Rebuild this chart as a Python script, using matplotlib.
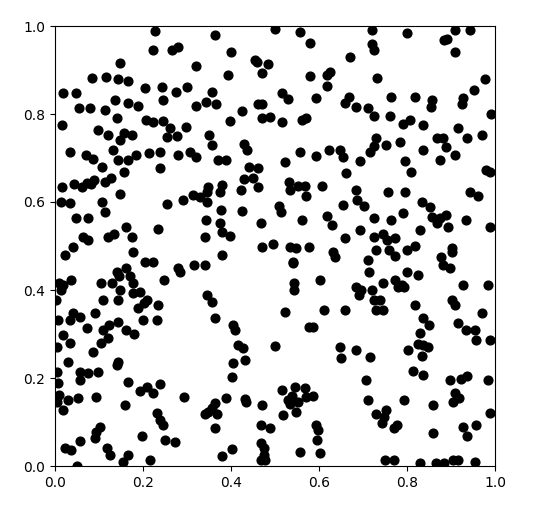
import matplotlib
matplotlib.use('Agg')
import matplotlib.pyplot as plt

# point positions, (x, y)
points = [
    (0.227, 0.989), (0.266, 0.945), (0.280, 0.952), (0.223, 0.945), (0.364, 0.980), (0.32, 0.909),
    (0.40, 0.941), (0.455, 0.923), (0.47, 0.893), (0.50, 0.993), (0.557, 0.986), (0.58, 0.961),
    (0.618, 0.889), (0.625, 0.895), (0.67, 0.93), (0.72, 0.99), (0.72, 0.96), (0.725, 0.945),
    (0.80, 0.984), (0.884, 0.968), (0.89, 0.97), (0.91, 0.99), (0.91, 0.94), (0.943, 0.99),
    (0.018, 0.848), (0.048, 0.848), (0.084, 0.882), (0.116, 0.884), (0.148, 0.916), (0.166, 0.875),
    (0.143, 0.880), (0.205, 0.859), (0.243, 0.861), (0.245, 0.832), (0.275, 0.85), (0.30, 0.861),
    (0.357, 0.85), (0.393, 0.889), (0.459, 0.918), (0.484, 0.914), (0.516, 0.848), (0.53, 0.834),
    (0.58, 0.886), (0.593, 0.836), (0.618, 0.864), (0.668, 0.839), (0.732, 0.882), (0.764, 0.839),
    (0.818, 0.839), (0.857, 0.832), (0.927, 0.836), (0.952, 0.855), (0.977, 0.88), (0.99, 0.80),
    (0.055, 0.814), (0.080, 0.814), (0.114, 0.809), (0.136, 0.832), (0.166, 0.825), (0.189, 0.818),
    (0.141, 0.791), (0.207, 0.786), (0.223, 0.782), (0.245, 0.784), (0.261, 0.768), (0.277, 0.75),
    (0.298, 0.77), (0.32, 0.818), (0.343, 0.827), (0.366, 0.823), (0.398, 0.784), (0.425, 0.807),
    (0.461, 0.823), (0.47, 0.823), (0.489, 0.793), (0.47, 0.791), (0.516, 0.782), (0.561, 0.786),
    (0.57, 0.791), (0.659, 0.825), (0.684, 0.816), (0.711, 0.814), (0.725, 0.795), (0.761, 0.795),
    (0.791, 0.777), (0.784, 0.736), (0.807, 0.786), (0.836, 0.775), (0.868, 0.745), (0.882, 0.745),
    (0.909, 0.707), (0.936, 0.745), (0.916, 0.768), (0.855, 0.816), (0.925, 0.823), (0.970, 0.752),
    (0.98, 0.673), (0.989, 0.668), (0.016, 0.775), (0.034, 0.714), (0.07, 0.707), (0.086, 0.698),
    (0.098, 0.764), (0.12, 0.752), (0.132, 0.718), (0.148, 0.741), (0.157, 0.757), (0.175, 0.752),
    (0.143, 0.695), (0.166, 0.695), (0.157, 0.668), (0.184, 0.707), (0.214, 0.711), (0.239, 0.714),
    (0.255, 0.748), (0.28, 0.707), (0.307, 0.714), (0.239, 0.677), (0.32, 0.702), (0.35, 0.752),
    (0.357, 0.73), (0.370, 0.695), (0.389, 0.695), (0.43, 0.732), (0.436, 0.718), (0.441, 0.68),
    (0.461, 0.677), (0.523, 0.691), (0.557, 0.714), (0.593, 0.705), (0.623, 0.718), (0.648, 0.718),
    (0.655, 0.702), (0.661, 0.666), (0.693, 0.693), (0.716, 0.714), (0.725, 0.727), (0.73, 0.745),
    (0.752, 0.73), (0.795, 0.693), (0.809, 0.668), (0.836, 0.718), (0.889, 0.725), (0.875, 0.695),
    (0.107, 0.68), (0.127, 0.655), (0.089, 0.65), (0.082, 0.641),
    (0.016, 0.634), (0.043, 0.641), (0.061, 0.634), (0.073, 0.643), (0.114, 0.645), (0.148, 0.618),
    (0.114, 0.577), (0.107, 0.6), (0.014, 0.6), (0.034, 0.598), (0.048, 0.564), (0.075, 0.564),
    (0.075, 0.514), (0.041, 0.498), (0.023, 0.48), (0.064, 0.52), (0.12, 0.52), (0.134, 0.527),
    (0.161, 0.543), (0.175, 0.52), (0.177, 0.486), (0.205, 0.464), (0.234, 0.539), (0.255, 0.595),
    (0.291, 0.605), (0.314, 0.616), (0.33, 0.611), (0.345, 0.623), (0.348, 0.634), (0.345, 0.6),
    (0.375, 0.623), (0.380, 0.639), (0.377, 0.582), (0.343, 0.559), (0.341, 0.52), (0.375, 0.552),
    (0.38, 0.532), (0.398, 0.523), (0.423, 0.627), (0.43, 0.652), (0.45, 0.655), (0.461, 0.634),
    (0.425, 0.58), (0.468, 0.552), (0.47, 0.498), (0.495, 0.505), (0.509, 0.591), (0.514, 0.577),
    (0.532, 0.645), (0.534, 0.627), (0.552, 0.636), (0.568, 0.636), (0.607, 0.636), (0.57, 0.614),
    (0.561, 0.559), (0.577, 0.498), (0.534, 0.498), (0.548, 0.495), (0.541, 0.461), (0.618, 0.568),
    (0.630, 0.548), (0.632, 0.486), (0.636, 0.475), (0.655, 0.593), (0.659, 0.518), (0.684, 0.627),
    (0.686, 0.605), (0.702, 0.591), (0.693, 0.536), (0.725, 0.564), (0.725, 0.52), (0.73, 0.491),
    (0.711, 0.468), (0.714, 0.441), (0.745, 0.527), (0.755, 0.514), (0.764, 0.559), (0.759, 0.491),
    (0.773, 0.518), (0.773, 0.477), (0.791, 0.575), (0.795, 0.623), (0.834, 0.6), (0.852, 0.589),
    (0.857, 0.566), (0.875, 0.564), (0.889, 0.57), (0.868, 0.552), (0.893, 0.543), (0.902, 0.495),
    (0.902, 0.486), (0.877, 0.475), (0.934, 0.559), (0.961, 0.614), (0.943, 0.623), (0.989, 0.543),
    (0.83, 0.536), (0.818, 0.5), (0.8, 0.491), (0.757, 0.623),
    (0.009, 0.416), (0.018, 0.411), (0.036, 0.423), (0.014, 0.4), (0.002, 0.377), (0.034, 0.332),
    (0.007, 0.332), (0.041, 0.348), (0.057, 0.339), (0.073, 0.314), (0.091, 0.348), (0.105, 0.416),
    (0.109, 0.377), (0.109, 0.309), (0.123, 0.32), (0.13, 0.416), (0.141, 0.441), (0.145, 0.432),
    (0.148, 0.4), (0.143, 0.377), (0.161, 0.45), (0.17, 0.432), (0.177, 0.416), (0.177, 0.393),
    (0.193, 0.395), (0.209, 0.377), (0.202, 0.37), (0.189, 0.359), (0.143, 0.327), (0.161, 0.309),
    (0.18, 0.3), (0.2, 0.332), (0.232, 0.332), (0.234, 0.366), (0.223, 0.464), (0.248, 0.423),
    (0.28, 0.45), (0.284, 0.441), (0.316, 0.457), (0.341, 0.457), (0.345, 0.389), (0.357, 0.373),
    (0.364, 0.336), (0.405, 0.32), (0.409, 0.309), (0.416, 0.275), (0.38, 0.48), (0.523, 0.35),
    (0.541, 0.464), (0.543, 0.416), (0.543, 0.4), (0.577, 0.316), (0.586, 0.316), (0.611, 0.355),
    (0.602, 0.423), (0.659, 0.355), (0.684, 0.407), (0.695, 0.4), (0.691, 0.389), (0.720, 0.4),
    (0.725, 0.377), (0.739, 0.377), (0.73, 0.355), (0.745, 0.355), (0.745, 0.416), (0.773, 0.423),
    (0.780, 0.407), (0.789, 0.411), (0.793, 0.407), (0.8, 0.441), (0.825, 0.434), (0.818, 0.366),
    (0.83, 0.302), (0.836, 0.336), (0.882, 0.457), (0.898, 0.45), (0.909, 0.366), (0.902, 0.377),
    (0.927, 0.411), (0.984, 0.411), (0.916, 0.325), (0.934, 0.309), (0.970, 0.348), (0.955, 0.309),
    (0.957, 0.286), (0.989, 0.286), (0.85, 0.32), (0.848, 0.27), (0.836, 0.275),
    (0.005, 0.27), (0.018, 0.298), (0.034, 0.280), (0.030, 0.236), (0.005, 0.214), (0.007, 0.189),
    (0.009, 0.161), (0.005, 0.145), (0.018, 0.127), (0.03, 0.15), (0.052, 0.155), (0.057, 0.195),
    (0.057, 0.214), (0.075, 0.211), (0.098, 0.214), (0.086, 0.259), (0.105, 0.280), (0.12, 0.291),
    (0.143, 0.236), (0.141, 0.23), (0.166, 0.191), (0.159, 0.139), (0.093, 0.157), (0.102, 0.089),
    (0.093, 0.077), (0.091, 0.064), (0.057, 0.057), (0.023, 0.041), (0.036, 0.036), (0.05, 0.0),
    (0.118, 0.041), (0.125, 0.025), (0.155, 0.009), (0.166, 0.025), (0.193, 0.17), (0.209, 0.18),
    (0.223, 0.166), (0.239, 0.186), (0.232, 0.12), (0.239, 0.105), (0.25, 0.059), (0.273, 0.055),
    (0.293, 0.157), (0.245, 0.093), (0.198, 0.068), (0.216, 0.014), (0.341, 0.118), (0.348, 0.123),
    (0.357, 0.132), (0.364, 0.143), (0.368, 0.118), (0.364, 0.086), (0.38, 0.023), (0.389, 0.155),
    (0.402, 0.202), (0.405, 0.234), (0.427, 0.268), (0.432, 0.241), (0.402, 0.039), (0.432, 0.152),
    (0.434, 0.145), (0.47, 0.139), (0.468, 0.093), (0.468, 0.052), (0.475, 0.041), (0.475, 0.025),
    (0.468, 0.014), (0.477, 0.014), (0.489, 0.086), (0.5, 0.273), (0.516, 0.173), (0.518, 0.116),
    (0.534, 0.141), (0.545, 0.18), (0.53, 0.15), (0.548, 0.123), (0.552, 0.145), (0.539, 0.159),
    (0.568, 0.177), (0.557, 0.032), (0.570, 0.157), (0.586, 0.159), (0.593, 0.093), (0.595, 0.059),
    (0.598, 0.082), (0.602, 0.03), (0.648, 0.27), (0.650, 0.245), (0.684, 0.264), (0.716, 0.248),
    (0.707, 0.195), (0.711, 0.15), (0.73, 0.118), (0.748, 0.111), (0.752, 0.127), (0.75, 0.014),
    (0.743, 0.098), (0.77, 0.086), (0.777, 0.093), (0.77, 0.014), (0.793, 0.15), (0.802, 0.264),
    (0.814, 0.216), (0.825, 0.277), (0.834, 0.25), (0.836, 0.207), (0.83, 0.007), (0.866, 0.007),
    (0.859, 0.075), (0.859, 0.139), (0.884, 0.007), (0.898, 0.195), (0.909, 0.166), (0.905, 0.145),
    (0.918, 0.155), (0.923, 0.198), (0.936, 0.205), (0.927, 0.089), (0.936, 0.068), (0.916, 0.014),
    (0.957, 0.093), (0.955, 0.009), (0.984, 0.195), (0.989, 0.12), (0.905, 0.014),
]
x = [p[0] for p in points]
y = [p[1] for p in points]

fig = plt.figure(figsize=(5.35, 5.18), dpi=100)
ax = fig.add_axes([55 / 535, 52 / 518, 440 / 535, 440 / 518])
ax.plot(x, y, 'o', color='black', markersize=6.3)
ax.set_xlim(0, 1)
ax.set_ylim(0, 1)

fig.savefig('out.png', dpi=100)
